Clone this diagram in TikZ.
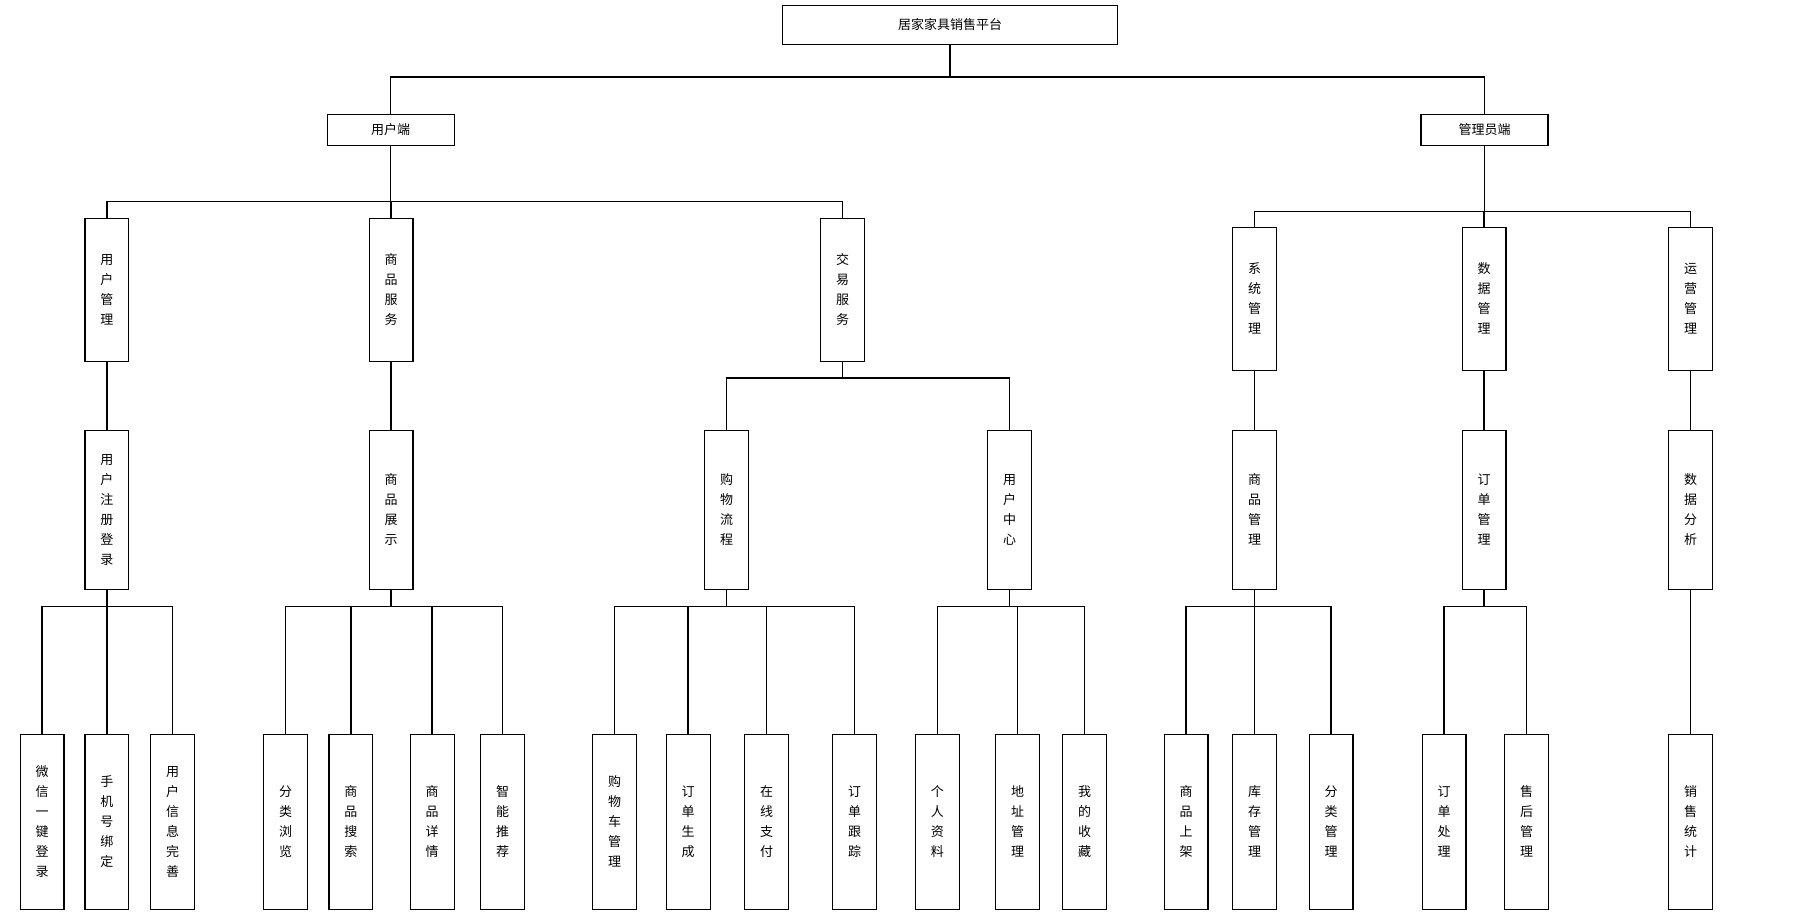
\documentclass[tikz,border=0pt]{standalone}
\usepackage{fontspec}
\newfontfamily\cjk{Noto Sans CJK SC}
\usetikzlibrary{positioning}

\begin{document}
\begin{tikzpicture}[x=1pt,y=-1pt,
    box/.style={draw,line width=1.2pt,inner sep=0pt,align=center,
      font=\cjk\fontsize{13}{20}\selectfont},
    hbox/.style={box,minimum width=127pt,minimum height=31pt},
    vbox/.style={box,minimum width=43.8pt},
    link/.style={line width=1.5pt}]
    \useasboundingbox (0,0) rectangle (1811,923);
    % top levels
    \node[box,minimum width=335pt,minimum height=39pt] (root) at (950,24.8) {居家家具销售平台};
    \node[hbox] (user) at (390.7,129.8) {用户端};
    \node[hbox] (admin) at (1484.5,129.8) {管理员端};
    % modules
    \node[vbox,minimum height=143pt] (umgr) at (106.8,289.7) {用\\户\\管\\理};
    \node[vbox,minimum height=143pt] (goods) at (391,289.7) {商\\品\\服\\务};
    \node[vbox,minimum height=143pt] (trade) at (842.6,289.7) {交\\易\\服\\务};
    \node[vbox,minimum height=143pt] (sys) at (1254.5,298.7) {系\\统\\管\\理};
    \node[vbox,minimum height=143pt] (data) at (1484,298.7) {数\\据\\管\\理};
    \node[vbox,minimum height=143pt] (ops) at (1690.5,298.7) {运\\营\\管\\理};
    % sub modules
    \node[vbox,minimum height=159pt] (reg) at (106.8,509.8) {用\\户\\注\\册\\登\\录};
    \node[vbox,minimum height=159pt] (show) at (391,509.8) {商\\品\\展\\示};
    \node[vbox,minimum height=159pt] (shop) at (726.6,509.8) {购\\物\\流\\程};
    \node[vbox,minimum height=159pt] (ucenter) at (1009.5,509.8) {用\\户\\中\\心};
    \node[vbox,minimum height=159pt] (gmgr) at (1254.5,509.8) {商\\品\\管\\理};
    \node[vbox,minimum height=159pt] (omgr) at (1484,509.8) {订\\单\\管\\理};
    \node[vbox,minimum height=159pt] (ana) at (1690.5,509.8) {数\\据\\分\\析};
    % functions
    \node[vbox,minimum height=175pt] (wx) at (42.1,821.7) {微\\信\\一\\键\\登\\录};
    \node[vbox,minimum height=175pt] (phone) at (106.8,821.7) {手\\机\\号\\绑\\定};
    \node[vbox,minimum height=175pt] (info) at (172.5,821.7) {用\\户\\信\\息\\完\\善};
    \node[vbox,minimum height=175pt] (browse) at (285.7,821.7) {分\\类\\浏\\览};
    \node[vbox,minimum height=175pt] (search) at (350.9,821.7) {商\\品\\搜\\索};
    \node[vbox,minimum height=175pt] (detail) at (432.2,821.7) {商\\品\\详\\情};
    \node[vbox,minimum height=175pt] (recom) at (502.7,821.7) {智\\能\\推\\荐};
    \node[vbox,minimum height=175pt] (cart) at (614.6,821.7) {购\\物\\车\\管\\理};
    \node[vbox,minimum height=175pt] (order) at (688.2,821.7) {订\\单\\生\\成};
    \node[vbox,minimum height=175pt] (pay) at (766.5,821.7) {在\\线\\支\\付};
    \node[vbox,minimum height=175pt] (track) at (854.7,821.7) {订\\单\\跟\\踪};
    \node[vbox,minimum height=175pt] (profile) at (937.3,821.7) {个\\人\\资\\料};
    \node[vbox,minimum height=175pt] (addr) at (1017.5,821.7) {地\\址\\管\\理};
    \node[vbox,minimum height=175pt] (fav) at (1084.5,821.7) {我\\的\\收\\藏};
    \node[vbox,minimum height=175pt] (shelf) at (1186,821.7) {商\\品\\上\\架};
    \node[vbox,minimum height=175pt] (stock) at (1254.5,821.7) {库\\存\\管\\理};
    \node[vbox,minimum height=175pt] (cat) at (1331,821.7) {分\\类\\管\\理};
    \node[vbox,minimum height=175pt] (handle) at (1444,821.7) {订\\单\\处\\理};
    \node[vbox,minimum height=175pt] (after) at (1526.5,821.7) {售\\后\\管\\理};
    \node[vbox,minimum height=175pt] (sales) at (1690.5,821.7) {销\\售\\统\\计};
    % connectors
    \foreach \c in {user,admin} \draw[link] (root.south) -- ++(0,32) -| (\c.north);
    \foreach \c in {umgr,goods,trade} \draw[link] (user.south) -- ++(0,55.7) -| (\c.north);
    \foreach \c in {sys,data,ops} \draw[link] (admin.south) -- ++(0,65.4) -| (\c.north);
    \foreach \c in {shop,ucenter} \draw[link] (trade.south) -- ++(0,16) -| (\c.north);
    \foreach \p/\c in {umgr/reg,goods/show,sys/gmgr,data/omgr,ops/ana}
      \draw[link] (\p.south) -- (\c.north);
    \foreach \p/\cs in {reg/{wx,phone,info},show/{browse,search,detail,recom},
        shop/{cart,order,pay,track},ucenter/{profile,addr,fav},
        gmgr/{shelf,stock,cat},omgr/{handle,after},ana/{sales}}
      \foreach \c in \cs \draw[link] (\p.south) -- ++(0,16.4) -| (\c.north);
\end{tikzpicture}
\end{document}
